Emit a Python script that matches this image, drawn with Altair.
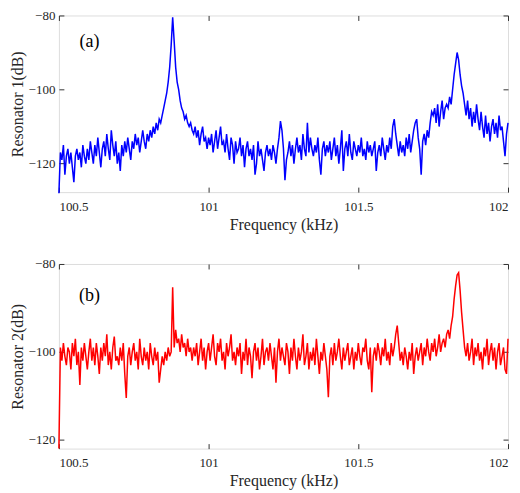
import altair as alt
import pandas as pd

FREQ = [round(100.5 + 0.005 * i, 3) for i in range(301)]

RES1 = [
    -128, -117, -119, -115, -123, -118, -116, -120, -117, -121,
    -125, -118, -116, -119, -117, -121, -115, -118, -120, -116,
    -119, -114, -117, -120, -115, -118, -113, -117, -121, -116,
    -114, -118, -112, -116, -119, -111, -115, -118, -114, -120,
    -117, -122, -115, -118, -114, -117, -113, -116, -119, -114,
    -116, -112, -115, -113, -117, -114, -111, -114, -116, -112,
    -114, -111, -113, -110, -112, -109, -111, -108, -109, -107,
    -105, -103, -101, -98, -94, -88, -80.5, -87, -94, -98,
    -100, -103, -105, -106, -108, -107, -109, -110, -109, -111,
    -112, -110, -113, -111, -115, -112, -110, -114, -113, -116,
    -113, -115, -112, -117, -114, -111, -116, -113, -110, -115,
    -114, -117, -112, -116, -119, -113, -115, -120, -114, -117,
    -116, -113, -118, -115, -121, -116, -114, -118, -116, -119,
    -115, -123, -120, -114, -118, -116, -119, -122, -117, -115,
    -118, -116, -119, -115, -117, -120, -116, -113, -108.5, -111,
    -116, -124.5, -119, -117, -114, -118, -115, -120, -116, -113,
    -117, -115, -119, -112, -116, -118, -109, -117, -113, -116,
    -118, -115, -117, -113, -119, -123, -116, -114, -118, -115,
    -117, -114, -119, -116, -113, -118, -115, -120, -116, -111,
    -122, -116, -114, -118, -112, -117, -119, -114, -116, -118,
    -115, -117, -113, -118, -116, -119, -114, -117, -115, -118,
    -116, -114, -122, -117, -115, -118, -113, -116, -119, -115,
    -117, -113, -116, -110, -108, -112, -115, -118, -114, -117,
    -115, -118, -113, -116, -112, -117, -114, -111, -109, -108,
    -113, -116, -123, -114, -112, -115, -111, -113, -109, -106,
    -107, -105, -109, -104, -110, -106, -103, -108, -105, -104,
    -105, -102, -104, -100, -96, -93, -90, -92, -96, -99,
    -101, -104, -107, -103, -108, -105, -110, -106, -109, -104,
    -108, -111, -106, -110, -113, -107, -112, -109, -114, -110,
    -108, -112, -109, -113, -107, -111, -110, -114, -118, -112,
    -109,
]

RES2 = [
    -122, -99, -102, -98, -101, -103, -99, -100, -104, -98,
    -101, -97, -103, -100, -107.5, -99, -102, -98, -101, -104,
    -100, -97, -102, -99, -103, -98, -101, -105, -99, -102,
    -98, -101, -96, -103, -100, -104, -99, -96.5, -102, -101,
    -103, -99, -102, -98, -105, -110.5, -101, -99, -103, -100,
    -98, -102, -100, -104, -97, -101, -103, -99, -102, -100,
    -104, -98, -101, -103, -99, -102, -100, -107, -104, -101,
    -103, -100, -102, -99, -101, -100, -85.3, -99, -95, -98,
    -97, -100, -96, -99, -98, -101, -97, -100, -99, -102,
    -99, -101, -98, -103, -100, -97, -102, -99, -104, -100,
    -98, -102, -99, -96, -101, -103, -98, -100, -97, -102,
    -100, -104, -98, -101, -99, -96, -102, -100, -103, -99,
    -101, -98, -105, -100, -102, -97, -103, -99, -101, -106,
    -100, -98, -102, -99, -104, -101, -97, -103, -100, -99,
    -102, -98, -101, -104, -99, -107, -100, -97, -102, -99,
    -101, -103, -98, -100, -105, -99, -102, -97, -101, -104,
    -99, -102, -100, -96, -103, -101, -98, -104, -100, -102,
    -99, -103, -97, -101, -105, -100, -102, -98, -101, -104,
    -110.3, -101, -99, -103, -98, -102, -100, -97, -101, -104,
    -99, -102, -100, -98, -103, -101, -99, -104, -100, -102,
    -98, -101, -103, -99, -100, -97, -102, -104, -99, -109.2,
    -101, -99, -102, -98, -100, -103, -99, -101, -97, -102,
    -100, -103, -98, -101, -99, -96, -94, -98, -102, -100,
    -103, -99, -101, -104, -100, -102, -98, -105, -101, -99,
    -102, -100, -98, -103, -99, -101, -97, -100, -102, -98,
    -100, -97, -101, -99, -96, -100, -98, -97, -99, -96,
    -95, -97, -94, -92, -88, -85, -82.5, -82, -86, -91,
    -95, -99, -101, -98, -102, -100, -97, -103, -99, -101,
    -98, -102, -100, -104, -99, -101, -97, -103, -100, -98,
    -102, -99, -104, -100, -98, -103, -101, -99, -104, -105,
    -97,
]

X_TICKS = [100.5, 101, 101.5, 102]
Y_TICKS = [-120, -100, -80]
X_DOMAIN = [100.5, 102]
PANEL_LABELS = ["(a)", "(b)"]
LABEL_POS_F = 100.602
LABEL_POS_V = -87.2

FONT = "Liberation Serif"
INK = "#262626"
W = 450


def panel(values, color, ydomain, ytitle, label, height):
    df = pd.DataFrame({"f": FREQ, "v": values})
    xs = alt.Scale(domain=X_DOMAIN, nice=False, zero=False)
    ys = alt.Scale(domain=ydomain, nice=False, zero=False)
    common = dict(tickSize=5, offset=-5, domain=False, tickColor="#333333",
                  tickWidth=1, grid=False)
    line = alt.Chart(df).mark_line(color=color, strokeWidth=1.5).encode(
        x=alt.X("f:Q", scale=xs, axis=alt.Axis(
            values=X_TICKS, format="~g", title="Frequency (kHz)", orient="bottom",
            labelFont=FONT, labelFontSize=13, labelColor=INK, labelPadding=8,
            titleFont=FONT, titleFontSize=16, titleFontWeight="normal",
            titleColor=INK, titlePadding=3, **common)),
        y=alt.Y("v:Q", scale=ys, axis=alt.Axis(
            values=Y_TICKS, format="d", title=ytitle, orient="left",
            labelFont=FONT, labelFontSize=13, labelColor=INK, labelPadding=4,
            titleFont=FONT, titleFontSize=16, titleFontWeight="normal",
            titleColor=INK, titlePadding=3, **common)),
    )
    frame = alt.Chart(df).mark_line(opacity=0).encode(
        x=alt.X("f:Q", scale=xs, axis=alt.Axis(
            values=X_TICKS, labels=False, title=None, orient="top", **common)),
        y=alt.Y("v:Q", scale=ys, axis=alt.Axis(
            values=Y_TICKS, labels=False, title=None, orient="right", **common)),
    )
    lab = pd.DataFrame({"f": [LABEL_POS_F], "v": [LABEL_POS_V], "t": [label]})
    text = alt.Chart(lab).mark_text(font=FONT, fontSize=18, color="black").encode(
        x=alt.X("f:Q", scale=xs, axis=None),
        y=alt.Y("v:Q", scale=ys, axis=None),
        text="t:N",
    )
    return alt.layer(line, frame, text).resolve_axis(
        x="independent", y="independent").properties(width=W, height=height)


top = panel(RES1, "#0000FF", [-127.7, -80], "Resonator 1(dB)", PANEL_LABELS[0], 177)
bottom = panel(RES2, "#FF0000", [-122, -80], "Resonator 2(dB)", PANEL_LABELS[1], 185)

chart = alt.vconcat(top, bottom, spacing=24).properties(
    padding={"left": 0, "top": 0, "right": 0, "bottom": 0}
).configure_view(stroke="#404040", strokeWidth=1.3).configure(background="white")

chart.save("out.html", embed_options={"renderer": "svg", "actions": False})
